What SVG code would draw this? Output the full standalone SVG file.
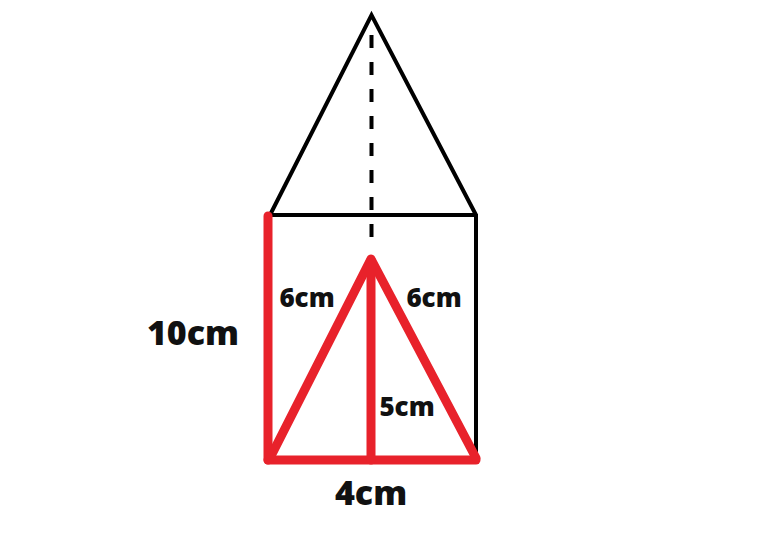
<svg xmlns="http://www.w3.org/2000/svg" width="768" height="538" viewBox="0 0 768 538">
<style>
.blk{fill:none;stroke:#000;stroke-width:4;stroke-linejoin:miter}
.red{fill:none;stroke:#E8222B;stroke-width:9;stroke-linecap:round;stroke-linejoin:round}
.dash{stroke:#000;stroke-width:4;stroke-dasharray:13 14}
text{font-family:"Open Sans","DejaVu Sans",sans-serif;font-weight:800;fill:#111;text-anchor:middle}
.big{font-size:34px}
.sm{font-size:26px}
</style>
<rect width="768" height="538" fill="#fff"/>
<g id="roof">
<polyline class="blk" points="270,215 371.5,15 476,215"/>
<line class="blk" x1="268" y1="215" x2="476" y2="215"/>
</g>
<g id="wall">
<line class="blk" x1="476" y1="214" x2="476" y2="455"/>
</g>
<g id="dashed">
<line class="dash" x1="371.5" y1="35" x2="371.5" y2="240"/>
</g>
<g id="red-shape">
<line class="red" x1="268" y1="216" x2="268" y2="460"/>
<line class="red" x1="268" y1="460" x2="476" y2="460"/>
<polyline class="red" points="270,458 371,259 476,458"/>
<line class="red" x1="371" y1="260" x2="371" y2="460"/>
</g>
<g id="labels">
<text class="big" x="193" y="345">10cm</text>
<text class="big" x="371" y="505">4cm</text>
<text class="sm" x="307" y="307">6cm</text>
<text class="sm" x="434" y="307">6cm</text>
<text class="sm" x="407" y="416">5cm</text>
</g>
</svg>
